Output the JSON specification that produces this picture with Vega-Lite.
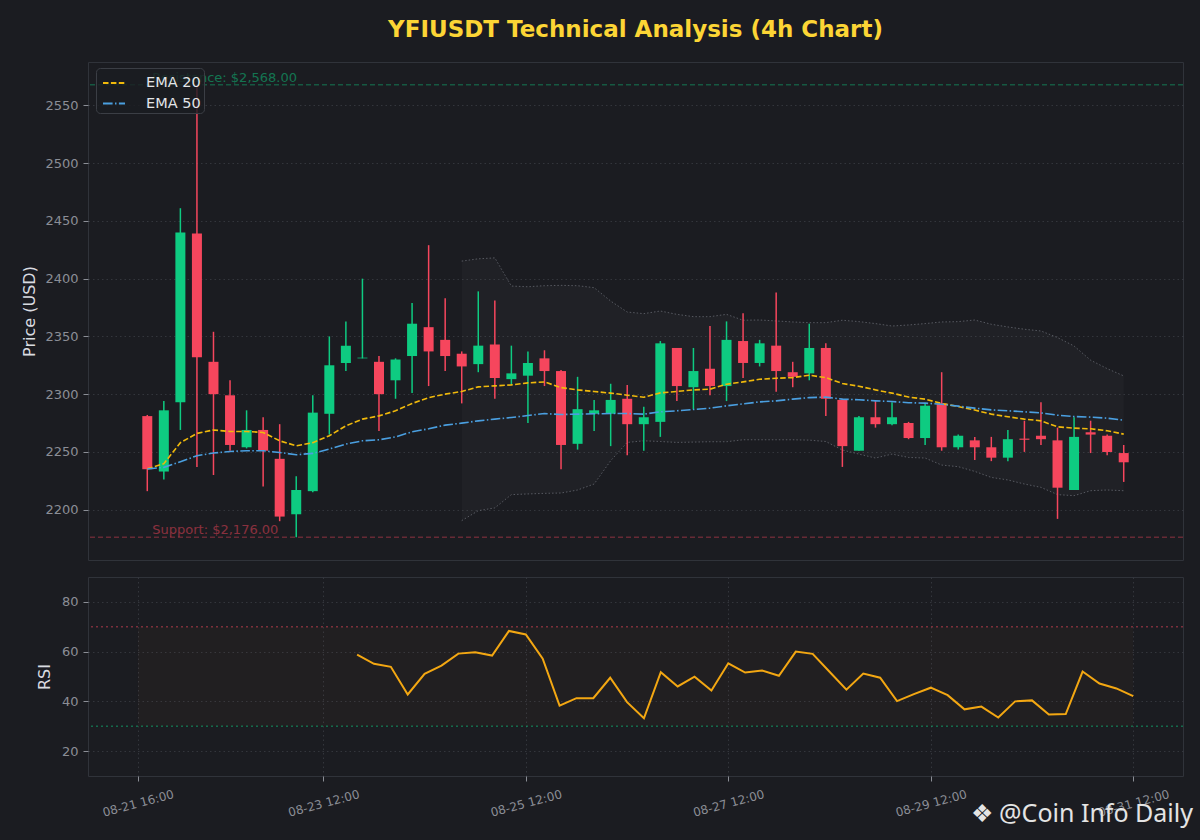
{
  "$schema": "https://vega.github.io/schema/vega-lite/v6.json",
  "background": "#1b1c21",
  "padding": {"left": 20, "top": 18, "right": 12, "bottom": 24},
  "config": {
    "font": "DejaVu Sans",
    "view": {"stroke": "#30333a", "strokeWidth": 1},
    "axis": {
      "labelColor": "#8b8e96", "tickColor": "#8b8e96", "tickSize": 5, "domain": false,
      "gridColor": "#3a3d44", "gridDash": [1.5, 3], "gridWidth": 0.8,
      "titleColor": "#d9dbe0", "titleFontWeight": "normal", "titleFontSize": 16,
      "labelFontSize": 13, "labelFont": "DejaVu Sans", "titleFont": "DejaVu Sans"
    },
    "legend": {
      "fillColor": "rgba(27,28,33,0.82)", "strokeColor": "#3b3e45", "cornerRadius": 4,
      "padding": 3, "labelColor": "#e3e5e8", "labelFontSize": 14.5, "labelFont": "DejaVu Sans",
      "symbolType": "stroke", "symbolSize": 484, "symbolStrokeWidth": 1.8, "symbolOffset": 3,
      "labelOffset": 20, "rowPadding": 1.5
    }
  },
  "datasets": {
    "levels": [
      {"kind": "res", "level": 2568, "label": "Resistance: $2,568.00", "t": "2025-08-21T16:00:00Z"},
      {"kind": "sup", "level": 2176, "label": "Support: $2,176.00", "t": "2025-08-21T16:00:00Z"}
    ],
    "span": [
      {"t0": "2025-08-21T16:00:00Z", "t1": "2025-08-31T12:00:00Z", "lo": 30, "hi": 70}
    ],
    "candles": [
      {"t": "2025-08-21T16:00:00Z", "o": 2281, "h": 2282, "l": 2216, "c": 2235, "e20": 2235.4, "e50": 2235.2, "bu": null, "bl": null, "rsi": null},
      {"t": "2025-08-21T20:00:00Z", "o": 2233, "h": 2294, "l": 2226, "c": 2286, "e20": 2239.8, "e50": 2236.6, "bu": null, "bl": null, "rsi": null},
      {"t": "2025-08-22T00:00:00Z", "o": 2293, "h": 2461, "l": 2269, "c": 2440, "e20": 2258, "e50": 2241.5, "bu": null, "bl": null, "rsi": null},
      {"t": "2025-08-22T04:00:00Z", "o": 2439, "h": 2568, "l": 2237, "c": 2332, "e20": 2266, "e50": 2246.7, "bu": null, "bl": null, "rsi": null},
      {"t": "2025-08-22T08:00:00Z", "o": 2328, "h": 2354, "l": 2230, "c": 2300, "e20": 2269, "e50": 2249, "bu": null, "bl": null, "rsi": null},
      {"t": "2025-08-22T12:00:00Z", "o": 2299, "h": 2312, "l": 2251, "c": 2256, "e20": 2267.7, "e50": 2250.4, "bu": null, "bl": null, "rsi": null},
      {"t": "2025-08-22T16:00:00Z", "o": 2254, "h": 2286, "l": 2253, "c": 2269, "e20": 2267.7, "e50": 2251, "bu": null, "bl": null, "rsi": null},
      {"t": "2025-08-22T20:00:00Z", "o": 2269, "h": 2280, "l": 2220, "c": 2251, "e20": 2266.8, "e50": 2251, "bu": null, "bl": null, "rsi": null},
      {"t": "2025-08-23T00:00:00Z", "o": 2244, "h": 2274, "l": 2190, "c": 2194, "e20": 2259.6, "e50": 2249.5, "bu": null, "bl": null, "rsi": null},
      {"t": "2025-08-23T04:00:00Z", "o": 2196, "h": 2229, "l": 2176, "c": 2217, "e20": 2255.3, "e50": 2247.5, "bu": null, "bl": null, "rsi": null},
      {"t": "2025-08-23T08:00:00Z", "o": 2216, "h": 2299, "l": 2215, "c": 2284, "e20": 2258, "e50": 2248.7, "bu": null, "bl": null, "rsi": null},
      {"t": "2025-08-23T12:00:00Z", "o": 2283, "h": 2350, "l": 2265, "c": 2325, "e20": 2264, "e50": 2252.5, "bu": null, "bl": null, "rsi": null},
      {"t": "2025-08-23T16:00:00Z", "o": 2327, "h": 2363, "l": 2320, "c": 2342, "e20": 2272.6, "e50": 2256.8, "bu": null, "bl": null, "rsi": null},
      {"t": "2025-08-23T20:00:00Z", "o": 2331, "h": 2400, "l": 2331, "c": 2331.6, "e20": 2278.4, "e50": 2259.6, "bu": null, "bl": null, "rsi": 58.8},
      {"t": "2025-08-24T00:00:00Z", "o": 2328, "h": 2333, "l": 2268, "c": 2300, "e20": 2281.2, "e50": 2260.5, "bu": null, "bl": null, "rsi": 55.1},
      {"t": "2025-08-24T04:00:00Z", "o": 2312, "h": 2331, "l": 2296, "c": 2330, "e20": 2285.6, "e50": 2263, "bu": null, "bl": null, "rsi": 53.9},
      {"t": "2025-08-24T08:00:00Z", "o": 2333, "h": 2379, "l": 2301, "c": 2361, "e20": 2291.9, "e50": 2267.4, "bu": null, "bl": null, "rsi": 42.8},
      {"t": "2025-08-24T12:00:00Z", "o": 2358, "h": 2429, "l": 2307, "c": 2337, "e20": 2297, "e50": 2270, "bu": null, "bl": null, "rsi": 51.1},
      {"t": "2025-08-24T16:00:00Z", "o": 2347, "h": 2383, "l": 2320, "c": 2333, "e20": 2300, "e50": 2273.2, "bu": null, "bl": null, "rsi": 54.4},
      {"t": "2025-08-24T20:00:00Z", "o": 2335, "h": 2337, "l": 2292, "c": 2324, "e20": 2302.3, "e50": 2274.9, "bu": 2415.2, "bl": 2190.5, "rsi": 59.2},
      {"t": "2025-08-25T00:00:00Z", "o": 2326, "h": 2389, "l": 2319, "c": 2342, "e20": 2306.3, "e50": 2276.9, "bu": 2417.2, "bl": 2199.1, "rsi": 59.7},
      {"t": "2025-08-25T04:00:00Z", "o": 2343, "h": 2381, "l": 2296, "c": 2314, "e20": 2307.2, "e50": 2278.4, "bu": 2418, "bl": 2201.5, "rsi": 58.4},
      {"t": "2025-08-25T08:00:00Z", "o": 2313, "h": 2342, "l": 2308, "c": 2318, "e20": 2308, "e50": 2279.8, "bu": 2393.6, "bl": 2213, "rsi": 68.3},
      {"t": "2025-08-25T12:00:00Z", "o": 2316, "h": 2337, "l": 2275, "c": 2327, "e20": 2309.8, "e50": 2281.5, "bu": 2393, "bl": 2213.6, "rsi": 66.9},
      {"t": "2025-08-25T16:00:00Z", "o": 2331, "h": 2338, "l": 2307, "c": 2320, "e20": 2310.6, "e50": 2283.2, "bu": 2393.9, "bl": 2214.1, "rsi": 57.2},
      {"t": "2025-08-25T20:00:00Z", "o": 2320, "h": 2321, "l": 2235, "c": 2256, "e20": 2305.7, "e50": 2282.4, "bu": 2394.2, "bl": 2214.4, "rsi": 38.3},
      {"t": "2025-08-26T00:00:00Z", "o": 2257, "h": 2315, "l": 2252, "c": 2287, "e20": 2303.7, "e50": 2282.7, "bu": 2393.9, "bl": 2217, "rsi": 41.3},
      {"t": "2025-08-26T04:00:00Z", "o": 2283, "h": 2295, "l": 2268, "c": 2286, "e20": 2302.3, "e50": 2283, "bu": 2392.2, "bl": 2222.2, "rsi": 41.3},
      {"t": "2025-08-26T08:00:00Z", "o": 2283, "h": 2309, "l": 2255, "c": 2295, "e20": 2300.9, "e50": 2283.2, "bu": 2380.6, "bl": 2242.4, "rsi": 49.5},
      {"t": "2025-08-26T12:00:00Z", "o": 2296, "h": 2308, "l": 2247, "c": 2274, "e20": 2299.1, "e50": 2283.2, "bu": 2371.1, "bl": 2258.2, "rsi": 39.7},
      {"t": "2025-08-26T16:00:00Z", "o": 2274, "h": 2289, "l": 2251, "c": 2280, "e20": 2297.3, "e50": 2282.7, "bu": 2369.7, "bl": 2259.6, "rsi": 33.2},
      {"t": "2025-08-26T20:00:00Z", "o": 2276, "h": 2346, "l": 2263, "c": 2344, "e20": 2301.1, "e50": 2284.7, "bu": 2372, "bl": 2259, "rsi": 51.7},
      {"t": "2025-08-27T00:00:00Z", "o": 2340, "h": 2340, "l": 2294, "c": 2307, "e20": 2302.3, "e50": 2285.6, "bu": 2369.1, "bl": 2258.2, "rsi": 46.0},
      {"t": "2025-08-27T04:00:00Z", "o": 2306, "h": 2340, "l": 2287, "c": 2320, "e20": 2303.7, "e50": 2286.7, "bu": 2367.1, "bl": 2258.5, "rsi": 49.9},
      {"t": "2025-08-27T08:00:00Z", "o": 2322, "h": 2359, "l": 2299, "c": 2307, "e20": 2304.3, "e50": 2287.9, "bu": 2367.1, "bl": 2258.8, "rsi": 44.4},
      {"t": "2025-08-27T12:00:00Z", "o": 2307, "h": 2363, "l": 2294, "c": 2347, "e20": 2308.6, "e50": 2289.9, "bu": 2369.1, "bl": 2258.8, "rsi": 55.3},
      {"t": "2025-08-27T16:00:00Z", "o": 2346, "h": 2370, "l": 2314, "c": 2327, "e20": 2310.6, "e50": 2291.6, "bu": 2364, "bl": 2260.5, "rsi": 51.6},
      {"t": "2025-08-27T20:00:00Z", "o": 2327, "h": 2347, "l": 2324, "c": 2344, "e20": 2312.9, "e50": 2293.3, "bu": 2364.2, "bl": 2260.5, "rsi": 52.4},
      {"t": "2025-08-28T00:00:00Z", "o": 2342, "h": 2388, "l": 2302, "c": 2320, "e20": 2313.8, "e50": 2294.2, "bu": 2363.4, "bl": 2260.5, "rsi": 50.3},
      {"t": "2025-08-28T04:00:00Z", "o": 2319, "h": 2328, "l": 2306, "c": 2315, "e20": 2314.3, "e50": 2295.7, "bu": 2362.5, "bl": 2260.5, "rsi": 60.0},
      {"t": "2025-08-28T08:00:00Z", "o": 2318, "h": 2361, "l": 2312, "c": 2340, "e20": 2316.4, "e50": 2297, "bu": 2361.9, "bl": 2260.2, "rsi": 59.1},
      {"t": "2025-08-28T12:00:00Z", "o": 2340, "h": 2344, "l": 2281, "c": 2296, "e20": 2314.3, "e50": 2297.4, "bu": 2361.9, "bl": 2259, "rsi": 51.9},
      {"t": "2025-08-28T16:00:00Z", "o": 2295, "h": 2296, "l": 2237, "c": 2255, "e20": 2309.2, "e50": 2295.7, "bu": 2364, "bl": 2251.6, "rsi": 44.7},
      {"t": "2025-08-28T20:00:00Z", "o": 2251, "h": 2281, "l": 2251, "c": 2280, "e20": 2306.9, "e50": 2295.1, "bu": 2362.8, "bl": 2248.1, "rsi": 51.2},
      {"t": "2025-08-29T00:00:00Z", "o": 2280, "h": 2294, "l": 2271, "c": 2274, "e20": 2303.7, "e50": 2294.2, "bu": 2361.1, "bl": 2244.7, "rsi": 49.5},
      {"t": "2025-08-29T04:00:00Z", "o": 2274, "h": 2293, "l": 2273, "c": 2280, "e20": 2300.9, "e50": 2293.6, "bu": 2359, "bl": 2248.1, "rsi": 40.1},
      {"t": "2025-08-29T08:00:00Z", "o": 2275, "h": 2276, "l": 2261, "c": 2262, "e20": 2297.5, "e50": 2292.6, "bu": 2359.9, "bl": 2245.2, "rsi": 42.9},
      {"t": "2025-08-29T12:00:00Z", "o": 2262, "h": 2292, "l": 2256, "c": 2290, "e20": 2295.7, "e50": 2292.2, "bu": 2361.1, "bl": 2244.7, "rsi": 45.5},
      {"t": "2025-08-29T16:00:00Z", "o": 2292, "h": 2319, "l": 2251, "c": 2254, "e20": 2291.9, "e50": 2291.3, "bu": 2362.5, "bl": 2238.6, "rsi": 42.5},
      {"t": "2025-08-29T20:00:00Z", "o": 2254, "h": 2265, "l": 2252, "c": 2264, "e20": 2289.3, "e50": 2289.6, "bu": 2362.8, "bl": 2237.2, "rsi": 36.8},
      {"t": "2025-08-30T00:00:00Z", "o": 2260, "h": 2263, "l": 2243, "c": 2254, "e20": 2286.2, "e50": 2287.9, "bu": 2364.2, "bl": 2233.1, "rsi": 37.9},
      {"t": "2025-08-30T04:00:00Z", "o": 2254, "h": 2263, "l": 2242, "c": 2245, "e20": 2282.7, "e50": 2286.4, "bu": 2360.5, "bl": 2227.9, "rsi": 33.5},
      {"t": "2025-08-30T08:00:00Z", "o": 2245, "h": 2269, "l": 2242, "c": 2261, "e20": 2280.4, "e50": 2285.6, "bu": 2358.2, "bl": 2225.7, "rsi": 40.0},
      {"t": "2025-08-30T12:00:00Z", "o": 2261.5, "h": 2277, "l": 2250, "c": 2260.5, "e20": 2278.4, "e50": 2284.7, "bu": 2356.2, "bl": 2222.2, "rsi": 40.4},
      {"t": "2025-08-30T16:00:00Z", "o": 2264, "h": 2293, "l": 2256, "c": 2261, "e20": 2276.9, "e50": 2283.8, "bu": 2354.7, "bl": 2219.3, "rsi": 34.7},
      {"t": "2025-08-30T20:00:00Z", "o": 2260, "h": 2271, "l": 2192, "c": 2219, "e20": 2271.7, "e50": 2281.8, "bu": 2349, "bl": 2213, "rsi": 34.9},
      {"t": "2025-08-31T00:00:00Z", "o": 2217, "h": 2280, "l": 2217, "c": 2263, "e20": 2270.6, "e50": 2280.6, "bu": 2341.7, "bl": 2212.1, "rsi": 52.0},
      {"t": "2025-08-31T04:00:00Z", "o": 2267, "h": 2277, "l": 2249, "c": 2265, "e20": 2270, "e50": 2280.1, "bu": 2329.4, "bl": 2216.4, "rsi": 47.2},
      {"t": "2025-08-31T08:00:00Z", "o": 2264, "h": 2265, "l": 2247, "c": 2250, "e20": 2268.3, "e50": 2279.2, "bu": 2322.1, "bl": 2217, "rsi": 45.2},
      {"t": "2025-08-31T12:00:00Z", "o": 2249, "h": 2256, "l": 2224, "c": 2241, "e20": 2265.4, "e50": 2277.5, "bu": 2315.8, "bl": 2216.4, "rsi": 42.1}
    ]
  },
  "spacing": 15,
  "resolve": {"scale": {"x": "independent", "y": "independent"}},
  "vconcat": [
    {
      "width": 1095,
      "height": 498,
      "title": {
        "text": "YFIUSDT Technical Analysis (4h Chart)", "color": "#fcd535", "fontSize": 23,
        "fontWeight": "bold", "font": "DejaVu Sans", "anchor": "middle", "frame": "group",
        "baseline": "alphabetic", "offset": 2
      },
      "data": {"name": "candles"},
      "encoding": {
        "x": {"field": "t", "type": "temporal", "scale": {"type": "utc", "domain": [1755744768000, 1756688832000]}, "axis": null}
      },
      "layer": [
        {
          "mark": {"type": "area", "color": "#ffffff", "opacity": 0.025},
          "encoding": {
            "y": {
              "field": "bu", "type": "quantitative",
              "scale": {"domain": [2156.4, 2587.6], "nice": false, "zero": false},
              "axis": {
                "title": "Price (USD)", "values": [2200, 2250, 2300, 2350, 2400, 2450, 2500, 2550],
                "format": "d", "grid": true, "labelPadding": 5, "titleAngle": -90, "titleX": -59, "titleY": 249,
                "titleAlign": "center", "titleBaseline": "middle"
              }
            },
            "y2": {"field": "bl"}
          }
        },
        {
          "mark": {"type": "line", "color": "#6f727a", "strokeDash": [1.5, 2], "strokeWidth": 1, "opacity": 0.7},
          "encoding": {"y": {"field": "bu", "type": "quantitative", "scale": {"domain": [2156.4, 2587.6], "nice": false, "zero": false}}}
        },
        {
          "mark": {"type": "line", "color": "#6f727a", "strokeDash": [1.5, 2], "strokeWidth": 1, "opacity": 0.7},
          "encoding": {"y": {"field": "bl", "type": "quantitative", "scale": {"domain": [2156.4, 2587.6], "nice": false, "zero": false}}}
        },
        {
          "data": {"name": "levels"},
          "mark": {"type": "rule", "strokeDash": [5, 3], "strokeWidth": 1.5, "opacity": 0.35},
          "encoding": {
            "x": null,
            "y": {"field": "level", "type": "quantitative", "scale": {"domain": [2156.4, 2587.6], "nice": false, "zero": false}},
            "color": {"condition": {"test": "datum.kind === 'res'", "value": "#0ecb81"}, "value": "#f6465d"}
          }
        },
        {
          "data": {"name": "levels"},
          "mark": {"type": "text", "align": "left", "baseline": "alphabetic", "dx": 5, "dy": -3, "fontSize": 13, "opacity": 0.5},
          "encoding": {
            "y": {"field": "level", "type": "quantitative", "scale": {"domain": [2156.4, 2587.6], "nice": false, "zero": false}},
            "text": {"field": "label"},
            "color": {"condition": {"test": "datum.kind === 'res'", "value": "#0ecb81"}, "value": "#f6465d"}
          }
        },
        {
          "mark": {"type": "rule", "strokeWidth": 1.5},
          "encoding": {
            "y": {"field": "l", "type": "quantitative", "scale": {"domain": [2156.4, 2587.6], "nice": false, "zero": false}},
            "y2": {"field": "h"},
            "color": {"condition": {"test": "datum.c >= datum.o", "value": "#0ecb81"}, "value": "#f6465d"}
          }
        },
        {
          "mark": {"type": "bar", "width": 10},
          "encoding": {
            "y": {"field": "o", "type": "quantitative", "scale": {"domain": [2156.4, 2587.6], "nice": false, "zero": false}},
            "y2": {"field": "c"},
            "color": {"condition": {"test": "datum.c >= datum.o", "value": "#0ecb81"}, "value": "#f6465d"}
          }
        },
        {
          "transform": [{"fold": ["e20", "e50"], "as": ["series", "value"]}],
          "mark": {"type": "line", "strokeWidth": 1.6},
          "encoding": {
            "y": {"field": "value", "type": "quantitative", "scale": {"domain": [2156.4, 2587.6], "nice": false, "zero": false}},
            "color": {
              "field": "series", "type": "nominal",
              "scale": {"domain": ["e20", "e50"], "range": ["#f0b90b", "#4a9fe0"]},
              "legend": {"title": null, "orient": "none", "legendX": 8, "legendY": 6, "labelExpr": "datum.label === 'e20' ? 'EMA 20' : 'EMA 50'"}
            },
            "strokeDash": {
              "field": "series", "type": "nominal",
              "scale": {"domain": ["e20", "e50"], "range": [[5.5, 2.4], [9.6, 2.4, 1.5, 2.4]]},
              "legend": {"title": null, "orient": "none", "legendX": 8, "legendY": 6, "labelExpr": "datum.label === 'e20' ? 'EMA 20' : 'EMA 50'"}
            }
          }
        }
      ]
    },
    {
      "width": 1095,
      "height": 199,
      "title": {
        "text": "❖ @Coin Info Daily", "orient": "bottom", "anchor": "end", "frame": "group",
        "font": "Noto Sans", "fontSize": 25, "fontWeight": "normal", "color": "#e4e4e4",
        "offset": -16, "dx": 10
      },
      "layer": [
        {
          "data": {"name": "span"},
          "mark": {"type": "rect", "color": "#d08a3a", "opacity": 0.03},
          "encoding": {
            "x": {
              "field": "t0", "type": "temporal",
              "scale": {"type": "utc", "domain": [1755749520000, 1756684080000]},
              "axis": {
                "title": null, "grid": true, "format": "%m-%d %H:%M", "labelAngle": -15,
                "labelAlign": "center", "labelBaseline": "middle", "labelPadding": 22,
                "labelFontSize": 12, "labelFlush": false, "labelOverlap": false,
                "values": [
                  {"year": 2025, "month": 8, "date": 21, "hours": 16, "utc": true},
                  {"year": 2025, "month": 8, "date": 23, "hours": 12, "utc": true},
                  {"year": 2025, "month": 8, "date": 25, "hours": 12, "utc": true},
                  {"year": 2025, "month": 8, "date": 27, "hours": 12, "utc": true},
                  {"year": 2025, "month": 8, "date": 29, "hours": 12, "utc": true},
                  {"year": 2025, "month": 8, "date": 31, "hours": 12, "utc": true}
                ]
              }
            },
            "x2": {"field": "t1"},
            "y": {
              "field": "lo", "type": "quantitative",
              "scale": {"domain": [10, 90], "nice": false, "zero": false},
              "axis": {
                "title": "RSI", "values": [20, 40, 60, 80], "grid": true, "labelPadding": 5,
                "titleAngle": -90, "titleX": -44, "titleY": 99.5, "titleAlign": "center", "titleBaseline": "middle"
              }
            },
            "y2": {"field": "hi"}
          }
        },
        {
          "data": {"name": "span"},
          "mark": {"type": "rule", "color": "#f6465d", "strokeDash": [2, 3], "strokeWidth": 1.3, "opacity": 0.45},
          "encoding": {"y": {"field": "hi", "type": "quantitative", "scale": {"domain": [10, 90], "nice": false, "zero": false}}}
        },
        {
          "data": {"name": "span"},
          "mark": {"type": "rule", "color": "#0ecb81", "strokeDash": [2, 3], "strokeWidth": 1.3, "opacity": 0.45},
          "encoding": {"y": {"field": "lo", "type": "quantitative", "scale": {"domain": [10, 90], "nice": false, "zero": false}}}
        },
        {
          "data": {"name": "candles"},
          "mark": {"type": "line", "color": "#f3a712", "strokeWidth": 2},
          "encoding": {
            "x": {"field": "t", "type": "temporal"},
            "y": {"field": "rsi", "type": "quantitative", "scale": {"domain": [10, 90], "nice": false, "zero": false}}
          }
        }
      ]
    }
  ]
}
